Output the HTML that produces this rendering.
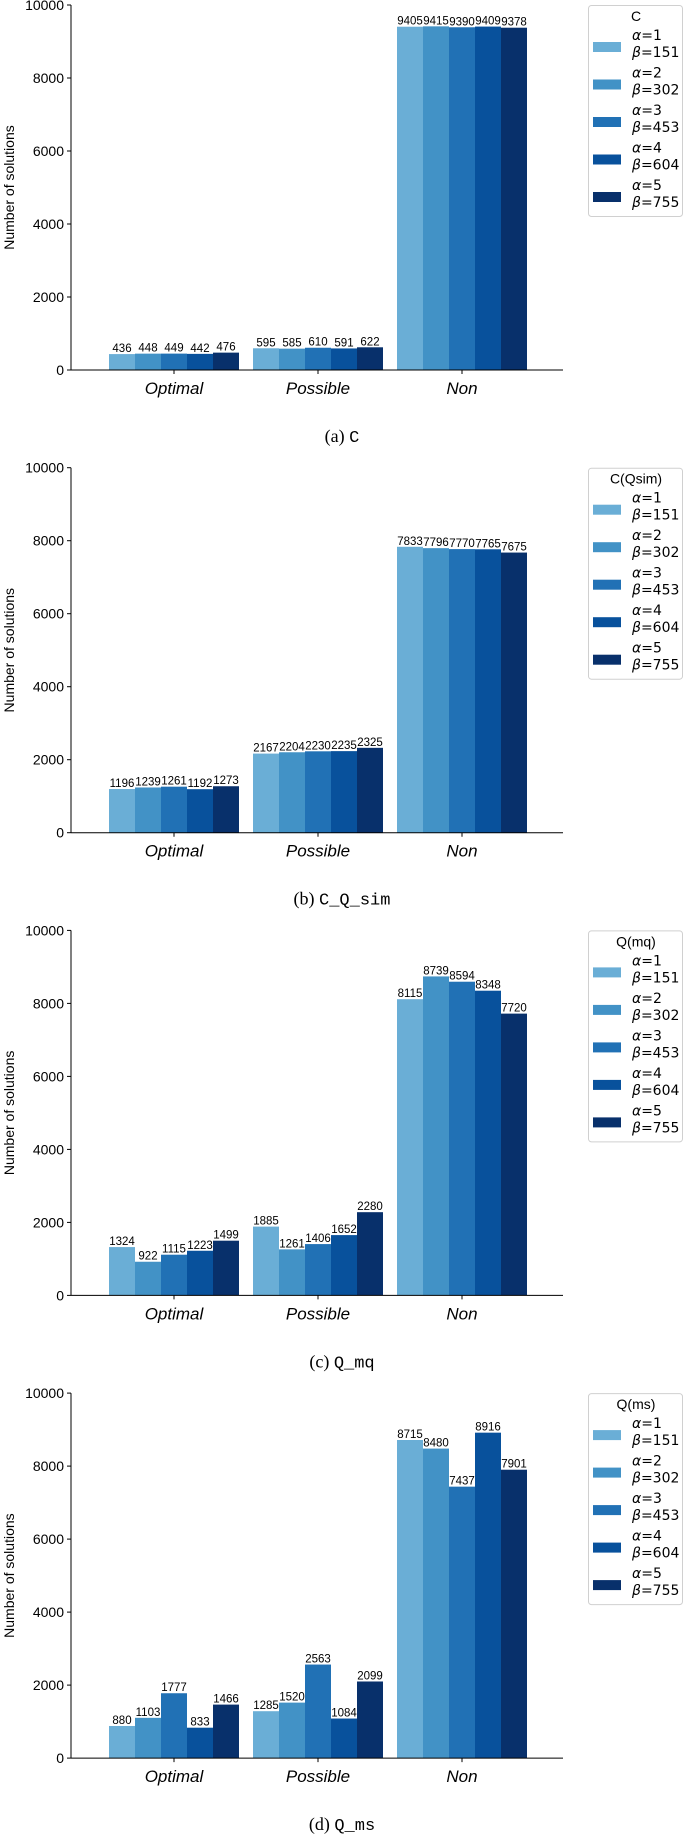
<!DOCTYPE html>
<html><head><meta charset="utf-8">
<style>
html,body{margin:0;padding:0;background:#fff;}
svg{display:block;}
</style></head>
<body>
<svg id="chart" width="685" height="1835" xmlns="http://www.w3.org/2000/svg"></svg>
<script>
const categories = ["Optimal", "Possible", "Non"];
const seriesAlpha = ["1","2","3","4","5"];
const seriesBeta = ["151","302","453","604","755"];
const colors = ["#6aaed6","#4292c6","#2171b5","#08519c","#08306b"];
const yTicks = [0,2000,4000,6000,8000,10000];
const legendTitles = ["C","C(Qsim)","Q(mq)","Q(ms)"];
const captionLetters = ["(a) ","(b) ","(c) ","(d) "];
const captionCodes = ["C","C_Q_sim","Q_mq","Q_ms"];
// values[panel][category][series]
const valuesA = [[436,448,449,442,476],[595,585,610,591,622],[9405,9415,9390,9409,9378]];
const valuesB = [[1196,1239,1261,1192,1273],[2167,2204,2230,2235,2325],[7833,7796,7770,7765,7675]];
const valuesC = [[1324,922,1115,1223,1499],[1885,1261,1406,1652,2280],[8115,8739,8594,8348,7720]];
const valuesD = [[880,1103,1777,833,1466],[1285,1520,2563,1084,2099],[8715,8480,7437,8916,7901]];
const panels = [valuesA, valuesB, valuesC, valuesD];

const NS = "http://www.w3.org/2000/svg";
const svg = document.getElementById("chart");
function mk(tag, attrs, parent, text){
  const e = document.createElementNS(NS, tag);
  for (const k in attrs) e.setAttribute(k, attrs[k]);
  if (text !== undefined) e.textContent = text;
  parent.appendChild(e);
  return e;
}
const PANEL_STEP = 462.7, AX_LEFT = 71, AX_RIGHT = 563, PLOT_H = 365, YMAX = 10000;
const GROUP0 = 174, GROUP_STEP = 144, BAR_W = 26;
const font = '"Liberation Sans", "DejaVu Sans", sans-serif';

panels.forEach((vals, p) => {
  const off = p * PANEL_STEP;
  const zero = 370 + off;
  const y = v => zero - v / YMAX * PLOT_H;
  const x = (ci, si) => GROUP0 + ci * GROUP_STEP - 2.5 * BAR_W + si * BAR_W;
  const g = mk("g", {}, svg);
  
  

  vals.forEach((row, ci) => {
    row.forEach((v, si) => {
      const r = mk("rect", {x: x(ci, si), y: y(v), width: BAR_W, height: zero - y(v), fill: colors[si]}, g);
      
      
      const t = mk("text", {x: x(ci, si) + BAR_W / 2, y: y(v) - 2, "text-anchor": "middle", "font-size": 11.5, "font-family": font, fill: "#000"}, g, String(v));
      
      
    });
  });

  const ya = mk("line", {x1: AX_LEFT, y1: y(YMAX), x2: AX_LEFT, y2: zero, stroke: "#000", "stroke-width": 1}, g);
  
  
  const xa = mk("line", {x1: AX_LEFT, y1: zero, x2: AX_RIGHT, y2: zero, stroke: "#000", "stroke-width": 1}, g);
  
  

  yTicks.forEach(t => {
    mk("line", {x1: AX_LEFT - 4, y1: y(t), x2: AX_LEFT, y2: y(t), stroke: "#000"}, g);
    const tl = mk("text", {x: AX_LEFT - 7, y: y(t) + 5, "text-anchor": "end", "font-size": 14, "font-family": font}, g, String(t));
    
    
  });
  categories.forEach((c, ci) => {
    const cx = GROUP0 + ci * GROUP_STEP;
    mk("line", {x1: cx, y1: zero, x2: cx, y2: zero + 4, stroke: "#000"}, g);
    const cl = mk("text", {x: cx, y: zero + 24, "text-anchor": "middle", "font-size": 17, "font-style": "italic", "font-family": font}, g, c);
    
    
  });

  const yl = mk("text", {x: 0, y: 0, transform: `translate(14,${(y(YMAX) + zero) / 2}) rotate(-90)`, "text-anchor": "middle", "font-size": 14, "font-family": font}, g, "Number of solutions");
  
  

  const lg = mk("g", {}, g);
  
  
  const top = 5 + off;
  mk("rect", {x: 588.5, y: top + 0.5, width: 94, height: 211, rx: 3, fill: "#fff", stroke: "#d0d0d0", "stroke-width": 1}, lg);
  const lt = mk("text", {x: 636, y: top + 16, "text-anchor": "middle", "font-size": 14, "font-family": font}, lg, legendTitles[p]);
  
  
  seriesAlpha.forEach((a, si) => {
    const ey = top + 30 + si * 37.5;
    const e = mk("g", {}, lg);
    
    
    mk("rect", {x: 593, y: ey + 7, width: 28, height: 10, fill: colors[si]}, e);
    const t1 = mk("text", {x: 632, y: ey + 5, "font-size": 14, "font-family": '"DejaVu Sans", sans-serif'}, e);
    mk("tspan", {"font-style": "italic"}, t1, "α");
    mk("tspan", {}, t1, "=" + a);
    const t2 = mk("text", {x: 632, y: ey + 22, "font-size": 14, "font-family": '"DejaVu Sans", sans-serif'}, e);
    mk("tspan", {"font-style": "italic"}, t2, "β");
    mk("tspan", {}, t2, "=" + seriesBeta[si]);
  });

  const cap = mk("text", {x: 342, y: zero + 72, "text-anchor": "middle", "font-size": 18, "font-family": '"Liberation Serif", serif'}, g);
  
  
  mk("tspan", {}, cap, captionLetters[p]);
  mk("tspan", {"font-family": '"Liberation Mono", monospace', "font-size": 17}, cap, captionCodes[p]);
});
</script>
</body></html>
